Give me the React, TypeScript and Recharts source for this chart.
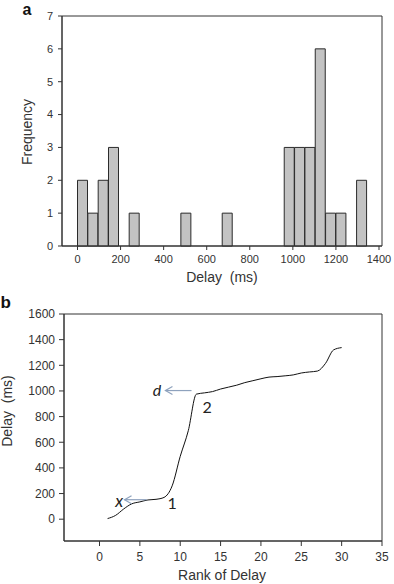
import {
  Bar,
  BarChart,
  Line,
  LineChart,
  ReferenceArea,
  ReferenceDot,
  ReferenceLine,
  XAxis,
  YAxis,
} from 'recharts';

// histogram (panel a): bin centres in ms and their counts
const binCenters = [24, 72, 120, 168, 264, 504, 696, 984, 1032, 1080, 1128, 1176, 1224, 1320];
const frequency = [2, 1, 2, 3, 1, 1, 1, 3, 3, 3, 6, 1, 1, 2];
const delayTicks = [0, 200, 400, 600, 800, 1000, 1200, 1400];
const freqTicks = [0, 1, 2, 3, 4, 5, 6, 7];

// sorted delays (panel b)
const ranks = Array.from({ length: 30 }, (_, i) => i + 1);
const sortedDelay = [
  5, 30, 80, 120, 135, 150, 155, 170, 260, 490, 690, 975, 985, 995, 1015, 1030, 1045, 1065,
  1080, 1095, 1108, 1112, 1118, 1125, 1140, 1148, 1155, 1215, 1320, 1338,
];
const rankTicks = [0, 5, 10, 15, 20, 25, 30, 35];
const delayTicksB = [0, 200, 400, 600, 800, 1000, 1200, 1400, 1600];

const histData = binCenters.map((c, i) => ({ delay: c, count: frequency[i] }));
const rankData = ranks.map((r, i) => ({ rank: r, delay: sortedDelay[i] }));

const AXIS = '#333';
const ARROW = '#8ea2bd';
const tickStyleA = { fontSize: 11, fill: '#333', fontFamily: 'Liberation Sans, Arial, sans-serif' };
const tickStyleB = { fontSize: 12, fill: '#333', fontFamily: 'Liberation Sans, Arial, sans-serif' };
const noteStyle = { fontSize: 16, fill: '#222', fontFamily: 'Lato, sans-serif' };

// left-pointing arrow with an open head
const arrowShape = (p: any) => {
  const { x1, y1, x2, y2 } = p;
  return (
    <g>
      <line x1={x1} y1={y1} x2={x2} y2={y2} stroke={ARROW} strokeWidth={1.2} />
      <polyline
        points={`${x2 + 7},${y2 - 4} ${x2},${y2} ${x2 + 7},${y2 + 4}`}
        fill="none"
        stroke={ARROW}
        strokeWidth={1.2}
      />
    </g>
  );
};

const note = (x: number, y: number, text: string, italic: boolean, size = 16) => (
  <ReferenceDot
    x={x}
    y={y}
    r={0}
    fill="none"
    stroke="none"
    label={{
      value: text,
      position: 'center',
      style: { ...noteStyle, fontSize: size, fontStyle: italic ? 'italic' : 'normal' },
    }}
  />
);

export default function App() {
  const font = 'Liberation Sans, Arial, sans-serif';
  return (
    <div style={{ position: 'absolute', left: 0, top: 0, width: 394, height: 584, background: '#fff' }}>
      <div style={{ position: 'absolute', left: 0, top: 0 }}>
        <BarChart
          width={394}
          height={290}
          data={histData}
          margin={{ top: 16, right: 12, left: 0, bottom: 0 }}
          barCategoryGap={0}
          barGap={0}
        >
          <XAxis
            dataKey="delay"
            type="number"
            domain={[-72, 1414]}
            ticks={delayTicks}
            allowDataOverflow
            height={44}
            tick={tickStyleA}
            tickSize={4}
            tickMargin={5}
            stroke={AXIS}
          />
          <YAxis
            type="number"
            domain={[0, 7]}
            ticks={freqTicks}
            width={62}
            tick={tickStyleA}
            tickSize={4}
            tickMargin={5}
            stroke={AXIS}
          />
          <ReferenceArea x1={-72} x2={1414} y1={0} y2={7} fill="none" stroke={AXIS} strokeWidth={1} />
          <Bar dataKey="count" fill="#c3c3c3" stroke="#2b2b2b" strokeWidth={1} isAnimationActive={false} />
        </BarChart>
      </div>
      <div style={{ position: 'absolute', left: 0, top: 290 }}>
        <LineChart width={394} height={294} data={rankData} margin={{ top: 24, right: 12, left: 0, bottom: 0 }}>
          <XAxis
            dataKey="rank"
            type="number"
            domain={[-4.4, 35]}
            ticks={rankTicks}
            allowDataOverflow
            height={43}
            tick={tickStyleB}
            tickSize={5}
            tickMargin={6}
            stroke={AXIS}
          />
          <YAxis
            type="number"
            domain={[-170, 1600]}
            ticks={delayTicksB}
            allowDataOverflow
            width={64}
            tick={tickStyleB}
            tickSize={5}
            tickMargin={4}
            stroke={AXIS}
          />
          <ReferenceArea x1={-4.4} x2={35} y1={-170} y2={1600} fill="none" stroke={AXIS} strokeWidth={1} />
          <Line
            dataKey="delay"
            type="monotone"
            stroke="#111"
            strokeWidth={1}
            dot={false}
            isAnimationActive={false}
          />
          <ReferenceLine segment={[{ x: 11.4, y: 1003 }, { x: 8.17, y: 1003 }]} shape={arrowShape} />
          <ReferenceLine segment={[{ x: 5.85, y: 152 }, { x: 3.1, y: 152 }]} shape={arrowShape} />
          {note(7.11, 1003, 'd', true, 16)}
          {note(13.35, 870, '2', false, 16)}
          {note(2.45, 141, 'x', true, 17)}
          {note(9.0, 127, '1', false, 16)}
        </LineChart>
      </div>
      <svg
        width={394}
        height={584}
        style={{ position: 'absolute', left: 0, top: 0, pointerEvents: 'none' }}
        fontFamily={font}
      >
        <text x={22.5} y={14.8} fontSize={16} fontWeight="bold" fill="#111">a</text>
        <text x={0.5} y={308} fontSize={17} fontWeight="bold" fill="#111">b</text>
        <text x={222} y={282} fontSize={14} fill="#333" textAnchor="middle">{'Delay\u00a0\u00a0(ms)'}</text>
        <text x={222} y={580} fontSize={14} fill="#333" textAnchor="middle">Rank of Delay</text>
        <text x={31.5} y={132} fontSize={14} fill="#333" textAnchor="middle" transform="rotate(-90, 31.5, 132)">
          Frequency
        </text>
        <text x={11.7} y={411} fontSize={14} fill="#333" textAnchor="middle" transform="rotate(-90, 11.7, 411)">
          {'Delay\u00a0\u00a0(ms)'}
        </text>
      </svg>
    </div>
  );
}
